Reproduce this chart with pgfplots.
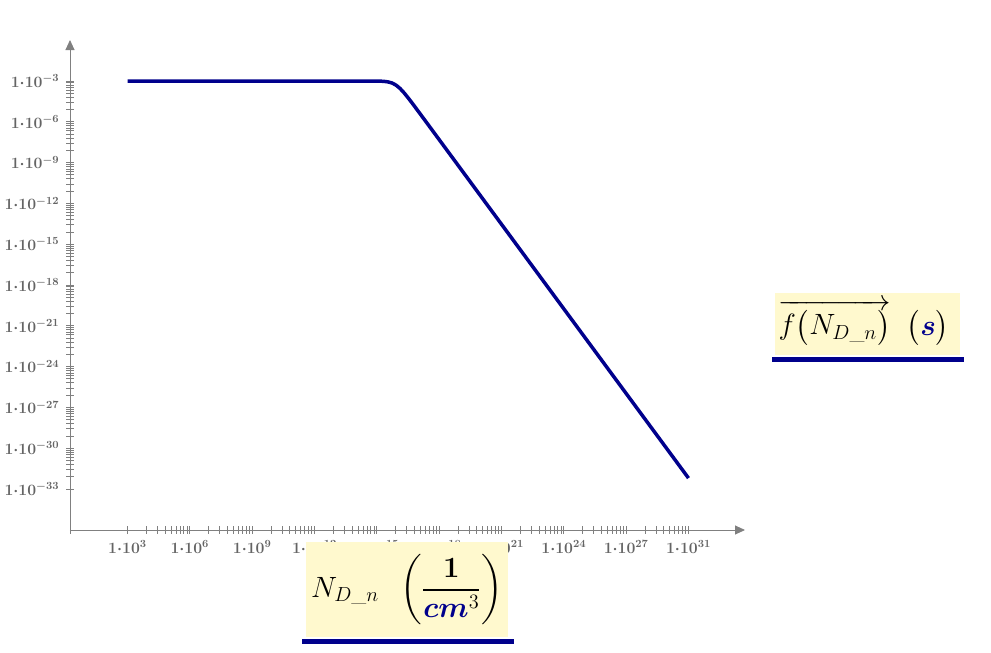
\documentclass[border=0pt]{standalone}
\usepackage{pgfplots}
\pgfplotsset{compat=1.18}
\usepackage{amsmath}
\usepackage{bm}
\usetikzlibrary{arrows.meta}
\definecolor{curveblue}{RGB}{0,0,140}
\definecolor{axgray}{RGB}{128,128,128}
\definecolor{lblgray}{RGB}{100,100,100}
\definecolor{boxyellow}{RGB}{255,249,206}

\begin{document}
\begin{tikzpicture}
\path[use as bounding box] (0,0) rectangle (991bp,653bp);
\begin{axis}[
  at={(70bp,123bp)}, anchor=south west,
  scale only axis, width=675bp, height=490bp,
  xmode=log, ymode=log,
  xmin=1.349, xmax=6.61e33, ymin=9.66e-37, ymax=1.034,
  axis lines=left,
  axis line style={draw=axgray, line width=0.9bp, -{Triangle[length=10bp,width=9bp]}},
  xminorticks=false, yminorticks=false,
  tick align=center, major tick length=8bp,
  tick style={axgray, line width=0.8bp},
  xtick={1e3,1.2915e6,1.6681e9,2.1544e12,2.7826e15,3.5938e18,4.6416e21,5.9948e24,7.7426e27,1e31},
  xticklabels={$1{\cdot}10^{3}$,$1{\cdot}10^{6}$,$1{\cdot}10^{9}$,$1{\cdot}10^{12}$,$1{\cdot}10^{15}$,
    $1{\cdot}10^{18}$,$1{\cdot}10^{21}$,$1{\cdot}10^{24}$,$1{\cdot}10^{27}$,$1{\cdot}10^{31}$},
  ytick={1e-33,1e-30,1e-27,1e-24,1e-21,1e-18,1e-15,1e-12,1e-9,1e-6,1e-3},
  yticklabels={$1{\cdot}10^{-33}$,$1{\cdot}10^{-30}$,$1{\cdot}10^{-27}$,$1{\cdot}10^{-24}$,
    $1{\cdot}10^{-21}$,$1{\cdot}10^{-18}$,$1{\cdot}10^{-15}$,$1{\cdot}10^{-12}$,
    $1{\cdot}10^{-9}$,$1{\cdot}10^{-6}$,$1{\cdot}10^{-3}$},
  tick label style={font=\fontsize{14.4}{17}\selectfont\boldmath, text=lblgray, scale=1.1},
  xticklabel style={anchor=north, inner sep=0pt, yshift=-6bp},
  yticklabel style={anchor=east, inner sep=0pt, xshift=-6bp},
]
\addplot[curveblue, line width=3.5bp] coordinates {
  (1e3,1e-3) (1e10,1e-3) (1e14,1e-3) (1e15,9.984e-4)
  (3.981e15,9.754e-4) (6.310e15,9.406e-4) (1e16,8.632e-4)
  (1.585e16,7.153e-4) (2.512e16,5.000e-4) (3.981e16,2.847e-4)
  (6.310e16,1.368e-4) (1e17,5.935e-5) (1.585e17,2.450e-5)
  (3.162e17,6.270e-6) (1e18,6.305e-7) (1e19,6.310e-9)
  (1e20,6.310e-11) (1e25,6.310e-21) (1e31,6.310e-33)
};
\end{axis}
\begin{scope}[x=1bp,y=1bp]
% minor ticks, Mathcad style (log subdivisions of each labelled interval)
\foreach \k in {0,...,8}{\foreach \j in {2,...,9}{%
  \pgfmathsetmacro\xx{127.5+62.333*(\k+log10(\j))}%
  \draw[axgray, line width=0.8bp] (\xx,119) -- (\xx,127);}}
\draw[axgray, line width=0.8bp] (70,119) -- (70,127);
\foreach \k in {0,...,9}{\foreach \j in {2,...,9}{%
  \pgfmathsetmacro\yy{164+40.8*(\k+log10(\j))}%
  \draw[axgray, line width=0.8bp] (66,\yy) -- (74,\yy);}}
% x axis label
\fill[boxyellow] (306,16) rectangle (508,111);
\draw[curveblue, line width=4.5bp] (302,11.5) -- (514,11.5);
\node[inner sep=0pt, scale=1.42] at (407,63) {\fontsize{20.74}{25}\selectfont
  $N_{D\_n}\;\;\left(\dfrac{\bm{1}}{\textcolor{curveblue}{\bm{cm}}^{3}}\right)$};
% y axis label
\fill[boxyellow] (775,298) rectangle (960,360);
\draw[curveblue, line width=4.5bp] (772,293.5) -- (964,293.5);
\node[inner sep=0pt, anchor=base, scale=1.42] at (864,318) {\fontsize{20.74}{25}\selectfont
  $\overrightarrow{f\bigl(N_{D\_n}\bigr)}\;\;\bigl(\textcolor{curveblue}{\bm{s}}\bigr)$};
\end{scope}
\end{tikzpicture}
\end{document}
